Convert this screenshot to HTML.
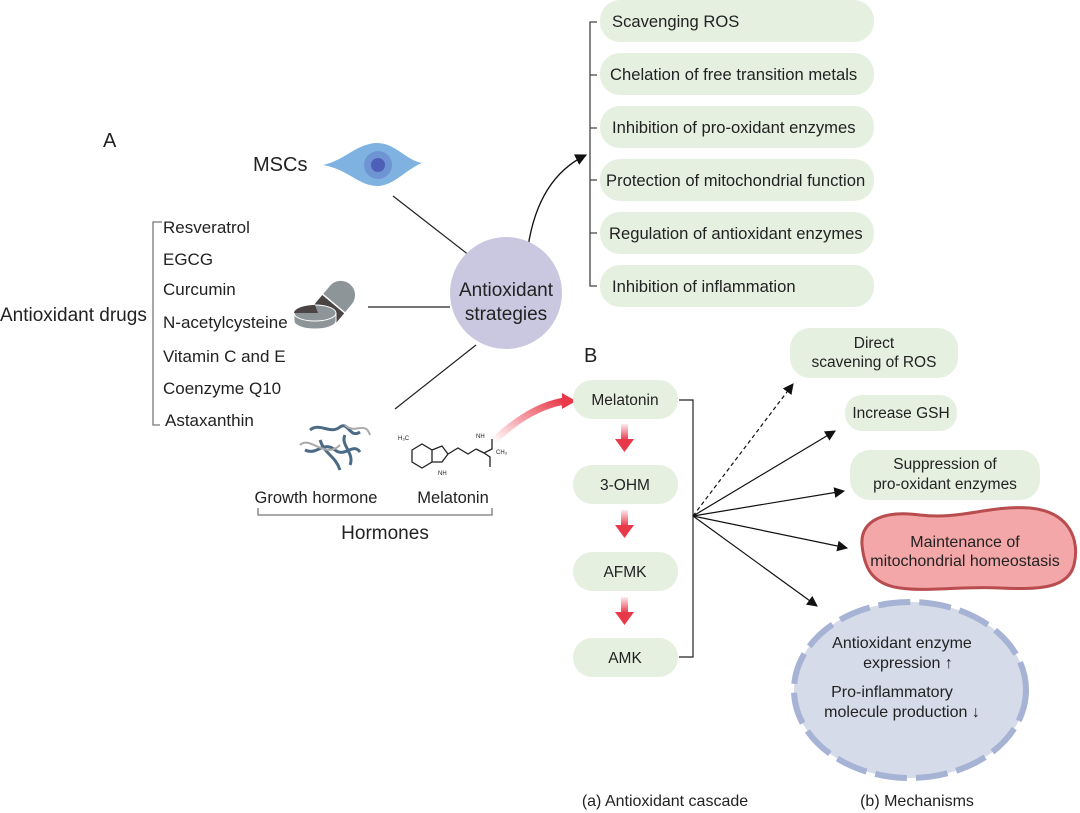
<!DOCTYPE html>
<html><head><meta charset="utf-8"><style>
body{margin:0;background:#fff}
svg{display:block;font-family:"Liberation Sans",sans-serif;fill:#222}
</style></head><body>
<svg width="1080" height="813" viewBox="0 0 1080 813" xmlns="http://www.w3.org/2000/svg">
<defs>
<marker id="ah" viewBox="0 0 10 10" refX="9" refY="5" markerWidth="9" markerHeight="9" orient="auto"><path d="M0,0 L10,5 L0,10 z" fill="#111"/></marker>
<linearGradient id="rg" x1="0" y1="1" x2="1" y2="0"><stop offset="0" stop-color="#e8394a" stop-opacity="0"/><stop offset="1" stop-color="#e8394a"/></linearGradient>
<linearGradient id="dg" x1="0" y1="0" x2="0" y2="1"><stop offset="0" stop-color="#e8394a" stop-opacity="0.1"/><stop offset="1" stop-color="#e8394a"/></linearGradient>
</defs>
<g fill="#e6f0e1">
<rect x="600" y="0" width="274" height="42" rx="20"/>
<rect x="600" y="53" width="274" height="42" rx="20"/>
<rect x="600" y="106" width="274" height="42" rx="20"/>
<rect x="600" y="159" width="274" height="42" rx="20"/>
<rect x="600" y="212" width="274" height="42" rx="20"/>
<rect x="600" y="265" width="274" height="42" rx="20"/>
</g>
<path d="M597,22 H590 V286 H597 M590,75 H597 M590,128 H597 M590,180 H597 M590,233 H597" stroke="#444" stroke-width="1.3" fill="none"/>
<g font-size="16.6">
<text x="612" y="27">Scavenging ROS</text>
<text x="610" y="80">Chelation of free transition metals</text>
<text x="612" y="133">Inhibition of pro-oxidant enzymes</text>
<text x="606" y="186">Protection of mitochondrial function</text>
<text x="609" y="239">Regulation of antioxidant enzymes</text>
<text x="612" y="292">Inhibition of inflammation</text>
</g>
<path d="M528,247 C535,200 555,170 586,155" stroke="#111" stroke-width="1.3" fill="none" marker-end="url(#ah)"/>
<text x="103" y="147" font-size="20">A</text>
<text x="253" y="171" font-size="20">MSCs</text>
<path d="M323,165 C345,160 355,145 375,143 C395,142 405,160 422,163 C405,170 395,185 378,186 C358,186 350,170 323,165z" fill="#7fb2e0"/>
<circle cx="378" cy="165" r="14" fill="#6f94d4"/><circle cx="378" cy="165" r="7" fill="#4d5fb6"/>
<line x1="393" y1="196" x2="474" y2="259" stroke="#222" stroke-width="1.2"/>
<line x1="368" y1="307" x2="450" y2="307" stroke="#222" stroke-width="1.2"/>
<line x1="395" y1="409" x2="476" y2="345" stroke="#222" stroke-width="1.2"/>
<circle cx="506" cy="293" r="56" fill="#c9c8e0"/>
<text x="506" y="296" font-size="19" text-anchor="middle">Antioxidant</text>
<text x="506" y="320" font-size="19" text-anchor="middle">strategies</text>
<!-- pills -->
<g transform="rotate(40 335 302)"><rect x="320" y="278" width="30" height="52" rx="15" fill="#8e9598" stroke="#fff" stroke-width="1.5"/><path d="M320,304 h30 v11 a15,15 0 0 1 -30,0z" fill="#4a4444" stroke="#fff" stroke-width="1.5"/></g>
<path d="M294,313 v8 a21,8 0 0 0 42,0 v-8z" fill="#8e9598" stroke="#fff"/>
<ellipse cx="315" cy="313" rx="21" ry="8" fill="#8e9598" stroke="#fff"/>
<path d="M294,313 A21,8 0 0 1 315,305 L318,313z" fill="#4a4444"/>
<path d="M162,222 H153 V425 H160" stroke="#777" stroke-width="1.3" fill="none"/>
<text x="0" y="321" font-size="19">Antioxidant drugs</text>
<g font-size="17">
<text x="163" y="233">Resveratrol</text><text x="163" y="265">EGCG</text><text x="163" y="295">Curcumin</text><text x="163" y="328">N-acetylcysteine</text><text x="163" y="362">Vitamin C and E</text><text x="163" y="394">Coenzyme Q10</text><text x="165" y="426">Astaxanthin</text>
</g>
<g stroke="#4b6a86" stroke-width="3" fill="none"><path d="M310,430 c10,-8 20,5 30,-3 c8,-6 10,12 20,5 M305,450 c12,6 18,-10 30,0 c10,8 18,-8 25,2 M320,440 c5,15 15,15 20,30 M345,435 c-5,10 10,18 5,30"/></g>
<g stroke="#aaa" stroke-width="2" fill="none"><path d="M300,445 c10,-10 25,15 40,0 M345,425 c10,10 20,-5 25,10"/></g>
<g stroke="#222" stroke-width="1.3" fill="none"><path d="M412,450 l10,-6 l10,6 v12 l-10,6 l-10,-6z M432,450 l10,-4 l6,8 l-6,8 l-10,0 M448,454 l10,-6 l10,6 l8,-5 M476,449 l8,4 l8,-4 v-10 M484,453 l6,4 v10"/></g>
<text x="398" y="440" font-size="6">H₃C</text><text x="476" y="438" font-size="6">NH</text><text x="496" y="454" font-size="6">CH₃</text><text x="438" y="475" font-size="6">NH</text>
<text x="316" y="503" font-size="16.5" text-anchor="middle">Growth hormone</text>
<text x="453" y="503" font-size="16.5" text-anchor="middle">Melatonin</text>
<path d="M258,508 V515 H492 V508" stroke="#777" stroke-width="1.3" fill="none"/>
<text x="385" y="539" font-size="19" text-anchor="middle">Hormones</text>
<path d="M493,442 C515,420 540,405 565,401" stroke="url(#rg)" stroke-width="7" fill="none"/>
<path d="M562,393 L576,401 L562,409z" fill="#e8394a"/>
<text x="584" y="362" font-size="20">B</text>
<g fill="#e6f0e1">
<rect x="573" y="380" width="105" height="39" rx="19"/>
<rect x="573" y="465" width="105" height="39" rx="19"/>
<rect x="573" y="552" width="105" height="39" rx="19"/>
<rect x="573" y="638" width="105" height="39" rx="19"/>
</g>
<g font-size="15.5" text-anchor="middle"><text x="625" y="405">Melatonin</text><text x="625" y="490">3-OHM</text><text x="625" y="577">AFMK</text><text x="625" y="663">AMK</text></g>
<g><rect x="621" y="424" width="7" height="16" fill="url(#dg)"/><path d="M615,439 h19 l-9.5,13z" fill="#e8394a"/>
<rect x="621" y="510" width="7" height="16" fill="url(#dg)"/><path d="M615,525 h19 l-9.5,13z" fill="#e8394a"/>
<rect x="621" y="597" width="7" height="16" fill="url(#dg)"/><path d="M615,612 h19 l-9.5,13z" fill="#e8394a"/></g>
<path d="M679,400 H693 V657 H679" stroke="#222" stroke-width="1.2" fill="none"/>
<g stroke="#111" stroke-width="1.2" fill="none">
<line x1="693" y1="516" x2="793" y2="384" stroke-dasharray="4,3" marker-end="url(#ah)"/>
<line x1="693" y1="516" x2="835" y2="431" marker-end="url(#ah)"/>
<line x1="693" y1="516" x2="844" y2="491" marker-end="url(#ah)"/>
<line x1="693" y1="516" x2="847" y2="548" marker-end="url(#ah)"/>
<line x1="693" y1="516" x2="817" y2="606" marker-end="url(#ah)"/>
</g>
<g fill="#e6f0e1"><rect x="790" y="328" width="168" height="50" rx="20"/><rect x="845" y="395" width="112" height="36" rx="17"/><rect x="850" y="450" width="190" height="50" rx="20"/></g>
<g font-size="15.5" text-anchor="middle"><text x="874" y="348">Direct</text><text x="874" y="367">scavening of ROS</text><text x="901" y="418">Increase GSH</text><text x="945" y="469">Suppression of</text><text x="945" y="489">pro-oxidant enzymes</text></g>
<path d="M862,545 C860,520 885,510 920,515 C960,520 990,505 1030,508 C1070,512 1080,540 1074,565 C1068,588 1040,590 1000,588 C960,586 930,592 900,588 C870,584 864,565 862,545z" fill="#f3a7a8" stroke="#b94c4e" stroke-width="3"/>
<g font-size="16" text-anchor="middle"><text x="965" y="547">Maintenance of</text><text x="965" y="566">mitochondrial homeostasis</text></g>
<ellipse cx="910" cy="690" rx="116" ry="88" fill="#d5dbe9" stroke="#a6b3d4" stroke-width="6" stroke-dasharray="32,9"/>
<g font-size="16" text-anchor="middle"><text x="902" y="648">Antioxidant  enzyme</text><text x="908" y="668">expression ↑</text><text x="892" y="697">Pro-inflammatory</text><text x="902" y="717">molecule production ↓</text></g>
<g font-size="16" text-anchor="middle"><text x="665" y="806">(a) Antioxidant cascade</text><text x="917" y="806">(b) Mechanisms</text></g>
</svg>
</body></html>
